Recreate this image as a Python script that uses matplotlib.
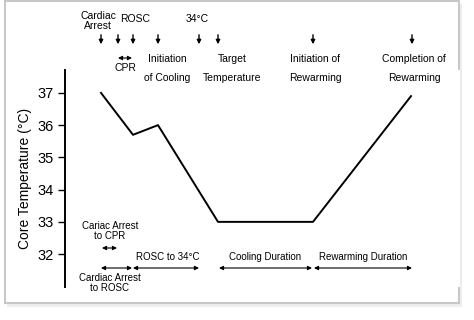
import matplotlib.pyplot as plt
import matplotlib.transforms as mtransforms
from matplotlib.patches import Rectangle

plt.rcParams['font.family'] = ['Liberation Sans', 'DejaVu Sans']

# --- DATA ---
time = [36, 68, 93, 153, 248, 346]
temp = [37.0, 35.7, 36.0, 33.0, 33.0, 36.9]
yticks = [32, 33, 34, 35, 36, 37]

# event markers (time, label, label centre x, label lines y in px)
event_times = [36, 53, 68, 93, 134, 153, 248, 347]
top_labels = [
    ("Cardiac\nArrest", 33),
    ("ROSC", 70),
    ("34°C", 132),
    ("Initiation\n\nof Cooling", 102),
    ("Target\n\nTemperature", 167),
    ("Initiation of\n\nRewarming", 250),
    ("Completion of\n\nRewarming", 349),
]
durations = [
    (36, 67, "Cardiac Arrest\nto ROSC"),
    (68, 134, "ROSC to 34°C"),
    (154, 247, "Cooling Duration"),
    (249, 347, "Rewarming Duration"),
]

W, H = 474, 320
fig = plt.figure(figsize=(W / 100, H / 100), dpi=100)
ax = fig.add_axes([65 / W, 1 - 287 / H, 395 / W, 217 / H])

def fy(py):
    return 1 - py / H

trans = mtransforms.blended_transform_factory(ax.transData, fig.transFigure)

ax.plot(time, temp, color='black', lw=1.4)
ax.set_xlim(0, 395)
ax.set_ylim(30.98, 37.71)
ax.set_yticks(yticks)
ax.set_xticks([])
for s in ['top', 'right', 'bottom']:
    ax.spines[s].set_visible(False)
ax.spines['left'].set_linewidth(1.4)
ax.tick_params(axis='y', length=5, width=1, labelsize=10.5, pad=3)
ax.set_ylabel("Core Temperature (°C)", fontsize=10, labelpad=4)

# top arrows
arrow_kw = dict(arrowstyle='-|>', color='black', lw=1.0, mutation_scale=6)
for t in event_times:
    ax.annotate('', xy=(t, fy(47)), xytext=(t, fy(32)), xycoords=trans,
                textcoords=trans, arrowprops=arrow_kw, annotation_clip=False)

fs = 7.5
for text, x in top_labels:
    if "\n\n" in text:
        a, b = text.split("\n\n")
        ax.text(x, fy(59), a, transform=trans, ha='center', va='center', fontsize=fs)
        ax.text(x, fy(78), b, transform=trans, ha='center', va='center', fontsize=fs)
    elif "\n" in text:
        ax.text(x, fy(21), text, transform=trans, ha='center', va='center',
                fontsize=fs, linespacing=0.9)
    else:
        ax.text(x, fy(19), text, transform=trans, ha='center', va='center', fontsize=fs)

dbl = dict(arrowstyle='<|-|>', color='black', lw=0.8, mutation_scale=6,
           shrinkA=0, shrinkB=0)
# CPR small arrow at top
ax.annotate('', xy=(53, fy(58)), xytext=(67, fy(58)), xycoords=trans,
            textcoords=trans, arrowprops=dbl, annotation_clip=False)
ax.text(60, fy(68), "CPR", transform=trans, ha='center', va='center', fontsize=fs)

# bottom durations
ax.text(45, fy(231), "Cariac Arrest\nto CPR", transform=trans, ha='center',
        va='center', fontsize=7, linespacing=0.9)
ax.annotate('', xy=(37, fy(248)), xytext=(52, fy(248)), xycoords=trans,
            textcoords=trans, arrowprops=dbl, annotation_clip=False)
for t0, t1, label in durations:
    ax.annotate('', xy=(t0, fy(268)), xytext=(t1, fy(268)), xycoords=trans,
                textcoords=trans, arrowprops=dbl, annotation_clip=False)
    if "\n" in label:
        ax.text(45, fy(283), label, transform=trans, ha='center', va='center',
                fontsize=7, linespacing=0.9)
    else:
        ax.text((t0 + t1) / 2 + (2 if t0 == 68 else 0), fy(257), label,
                transform=trans, ha='center', va='center', fontsize=7)

# frame with soft shadow
fig.patches.append(Rectangle((7 / W, fy(307)), 455 / W, 303 / H, transform=fig.transFigure,
                             facecolor='#eeeeee', edgecolor='none', zorder=-3))
fig.patches.append(Rectangle((5 / W, fy(303)), 454 / W, 302 / H, transform=fig.transFigure,
                             facecolor='white', edgecolor='#c8c8c8', lw=1.5, zorder=-2))

fig.savefig('out.png', dpi=100)
